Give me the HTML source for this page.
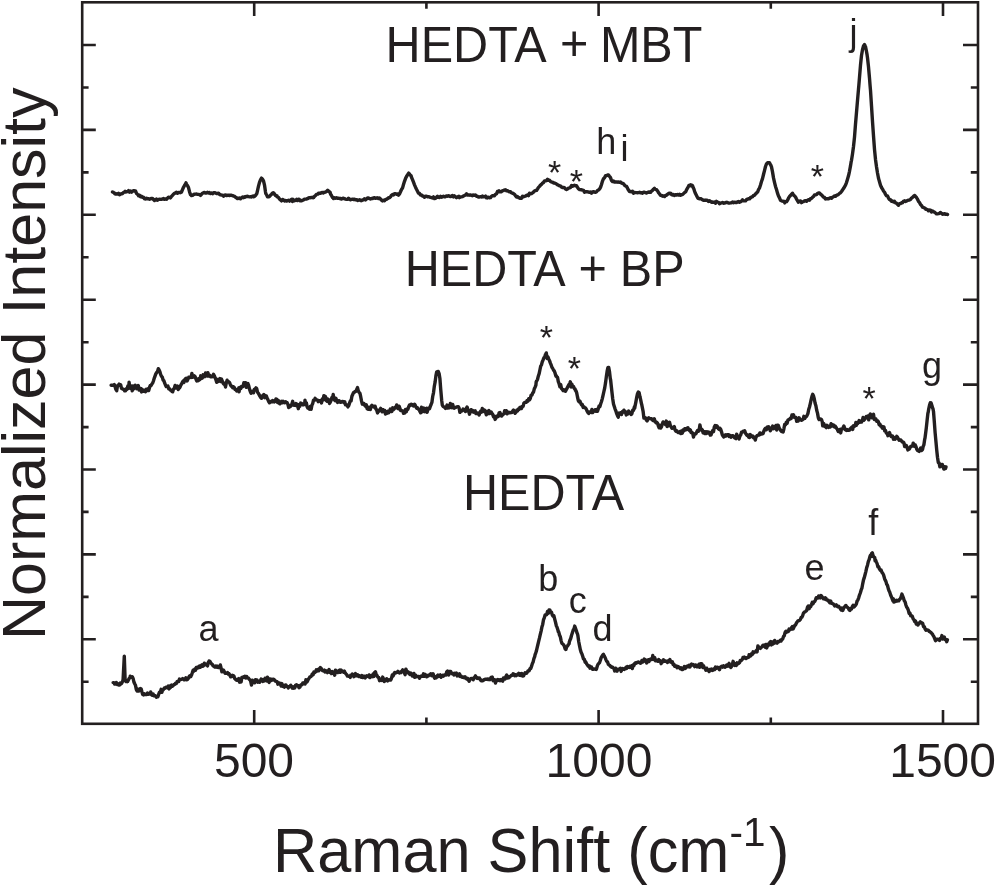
<!DOCTYPE html>
<html><head><meta charset="utf-8"><title>Raman spectra</title>
<style>
html,body{margin:0;padding:0;background:#fff;}
body{width:995px;height:886px;overflow:hidden;}
svg{display:block;}
text{font-family:"Liberation Sans",Arial,Helvetica,sans-serif;fill:#231f20;}
.t{font-size:48.6px;}
.k{font-size:48px;text-anchor:middle;}
.l{font-size:36px;text-anchor:middle;}
.s{font-size:34px;text-anchor:middle;}
.a{font-size:61.3px;}
</style></head><body>
<svg width="995" height="886" viewBox="0 0 995 886">
<rect width="995" height="886" fill="#fff"/>
<rect x="82.2" y="2.3" width="895.8" height="721.5" fill="none" stroke="#231f20" stroke-width="2.6"/>
<path d="M82.2,45.0h13.6M978.0,45.0h-15M82.2,129.9h13.6M978.0,129.9h-15M82.2,214.8h13.6M978.0,214.8h-15M82.2,299.7h13.6M978.0,299.7h-15M82.2,384.6h13.6M978.0,384.6h-15M82.2,469.5h13.6M978.0,469.5h-15M82.2,554.4h13.6M978.0,554.4h-15M82.2,639.3h13.6M978.0,639.3h-15M82.2,87.5h6.4M978.0,87.5h-7.2M82.2,172.4h6.4M978.0,172.4h-7.2M82.2,257.2h6.4M978.0,257.2h-7.2M82.2,342.2h6.4M978.0,342.2h-7.2M82.2,427.1h6.4M978.0,427.1h-7.2M82.2,511.9h6.4M978.0,511.9h-7.2M82.2,596.9h6.4M978.0,596.9h-7.2M82.2,681.8h6.4M978.0,681.8h-7.2M254.2,2.3v13.8M254.2,723.8v-13.8M598.6,2.3v13.8M598.6,723.8v-13.8M943,2.3v13.8M943,723.8v-13.8M426.4,2.3v6.4M426.4,723.8v-6.4M770.8,2.3v6.4M770.8,723.8v-6.4" fill="none" stroke="#231f20" stroke-width="2.6"/>
<g fill="none" stroke="#231f20" stroke-width="3.4" stroke-linejoin="round" stroke-linecap="round">
<path d="M112.5,192.0 113.5,192.4 114.5,193.4 115.1,193.9 115.5,193.4 116.5,194.0 117.5,194.1 118.5,193.3 119.5,194.8 120.1,194.5 120.5,193.9 121.5,193.8 122.5,193.5 123.5,192.5 124.5,192.0 125.1,191.3 125.5,192.1 126.5,191.7 127.5,191.6 128.5,190.6 129.5,192.1 130.2,191.3 130.5,191.0 131.5,192.2 132.5,191.2 133.5,190.6 134.5,191.1 135.5,190.9 136.5,193.4 137.5,194.3 138.2,194.8 138.5,195.7 139.5,195.3 140.5,196.8 141.5,196.2 142.5,197.2 143.5,197.2 144.5,198.7 145.5,199.0 146.5,198.2 147.5,198.9 148.5,198.7 149.5,199.2 150.5,198.8 151.5,198.4 152.5,198.4 153.5,199.5 154.5,200.5 155.5,199.5 156.5,199.1 157.5,200.3 158.5,199.4 159.5,199.3 160.5,199.4 161.5,199.2 162.5,199.1 163.5,198.5 164.5,199.3 165.5,198.9 166.5,199.2 167.5,198.2 168.5,197.1 169.5,197.5 170.5,197.9 171.5,196.4 172.5,195.3 173.5,194.2 174.5,193.3 175.5,192.9 176.5,192.2 177.5,193.3 178.5,192.4 179.5,192.5 180.5,192.7 181.5,192.0 182.5,189.6 183.5,187.3 184.5,185.5 185.5,184.0 186.0,182.8 186.5,184.1 187.5,185.6 187.8,186.2 188.5,187.6 189.5,191.7 190.5,194.6 190.9,194.9 191.5,195.6 192.5,195.4 193.5,194.6 194.5,194.2 195.5,194.1 196.5,194.0 197.5,194.4 198.5,194.4 199.5,194.7 200.5,195.4 201.5,194.3 202.5,193.3 203.5,192.8 204.5,192.4 205.5,193.1 206.5,193.1 207.5,192.2 208.5,193.1 209.5,192.6 210.5,193.6 211.5,193.0 212.5,193.7 213.5,192.7 214.5,192.7 215.5,193.0 216.5,193.5 217.5,193.5 218.5,193.2 219.5,194.4 220.5,194.8 221.5,195.0 222.5,195.1 223.5,196.2 224.5,195.1 225.5,194.9 226.5,195.6 227.5,195.3 228.5,195.2 229.5,195.5 230.5,195.2 231.5,195.2 232.5,195.7 233.5,196.0 234.5,196.4 235.5,197.2 236.5,197.8 237.5,198.6 238.5,198.3 239.5,198.0 240.5,198.8 241.5,197.8 242.5,197.0 243.5,197.7 244.5,196.8 244.7,197.3 245.5,196.8 246.5,196.4 247.5,196.3 248.5,196.7 249.5,196.9 250.5,196.7 251.5,197.0 252.5,196.2 253.5,196.8 253.8,195.9 254.5,196.3 255.5,195.5 256.5,194.1 256.8,193.6 257.5,190.7 258.5,186.2 259.5,182.3 260.5,179.8 261.5,178.1 262.5,179.2 263.5,180.8 264.5,185.1 265.5,192.0 265.8,193.6 266.5,194.6 267.5,196.8 268.5,196.9 269.5,196.5 270.5,195.2 271.5,194.2 272.5,193.1 272.9,193.6 273.5,192.9 274.5,194.0 275.5,195.4 276.5,196.2 276.9,195.8 277.5,197.1 278.5,197.6 279.5,199.0 280.5,199.9 281.5,200.9 281.9,200.5 282.5,199.5 283.5,199.8 284.5,200.9 285.5,200.4 286.5,201.1 287.5,200.7 288.5,200.2 289.5,201.1 290.5,200.1 291.5,199.4 292.5,201.4 293.0,199.3 293.5,200.6 294.5,200.8 295.5,200.3 296.5,199.4 297.5,200.5 298.5,199.1 299.0,199.1 299.5,199.8 300.0,200.8 300.5,200.7 301.5,200.9 302.5,200.2 303.5,200.0 304.5,199.2 305.5,199.1 306.5,199.1 307.5,198.4 308.0,198.5 308.5,197.9 309.5,197.6 310.5,197.7 311.5,197.4 312.5,197.5 313.1,197.1 313.5,197.7 314.5,196.3 315.5,195.5 316.5,194.4 317.5,194.1 318.1,194.0 318.5,193.1 319.5,193.1 320.5,193.3 321.5,192.7 322.5,192.4 323.5,192.9 324.1,192.3 324.5,192.3 325.5,192.1 326.5,191.5 327.5,190.5 327.7,190.3 328.5,191.0 329.5,192.0 330.2,192.5 330.5,194.0 331.5,195.5 332.5,197.6 333.2,197.4 333.5,198.6 334.5,197.9 335.5,198.2 336.5,197.7 337.5,198.3 338.5,198.3 339.5,198.4 340.2,198.7 340.5,198.5 341.5,199.1 342.5,198.5 343.5,198.2 344.5,198.7 345.5,199.1 346.5,199.4 347.5,199.3 348.5,198.2 349.5,199.3 350.5,199.9 351.5,199.3 352.5,199.1 353.5,199.6 354.5,199.2 355.5,199.9 356.5,199.7 357.5,200.5 358.5,200.2 359.5,199.7 360.5,200.5 361.5,200.7 362.5,200.0 363.5,199.8 364.5,198.7 365.5,199.9 366.5,199.0 367.5,198.0 368.5,198.0 369.5,198.6 370.5,199.0 371.5,198.5 372.5,198.6 373.5,197.8 374.5,197.6 375.5,198.4 376.5,198.0 377.5,197.8 378.5,198.6 379.5,198.1 380.5,199.0 381.5,200.1 382.5,200.9 383.5,200.2 384.5,200.8 385.5,199.4 386.5,199.4 387.5,198.7 388.5,197.7 389.5,197.7 390.5,196.8 391.5,195.3 392.5,194.5 393.5,194.9 394.5,193.7 395.5,193.7 396.5,194.2 397.5,193.9 398.5,195.1 399.5,193.9 400.5,191.8 401.5,189.5 402.5,188.1 403.5,184.5 404.5,181.3 405.5,178.6 406.5,176.5 407.5,174.9 408.5,173.4 408.7,173.1 409.5,174.2 410.5,175.3 411.0,175.5 411.5,177.3 412.5,179.6 413.5,182.2 414.5,184.8 415.5,187.2 416.5,189.3 417.5,191.2 418.5,193.2 419.5,193.5 420.5,195.1 421.5,194.9 422.5,196.0 423.5,196.2 424.5,197.2 425.5,196.1 426.5,196.1 427.5,196.7 428.5,196.7 429.5,196.9 430.5,197.4 431.5,197.6 432.5,198.0 433.5,196.9 434.5,198.6 435.5,198.4 436.5,197.3 437.5,196.3 438.5,197.4 439.5,197.5 440.5,196.3 441.5,197.2 442.5,196.8 443.5,196.2 444.5,196.7 445.5,196.7 446.5,195.9 447.5,196.2 448.5,195.7 448.7,195.7 449.5,196.2 450.5,196.6 451.5,196.2 452.5,195.5 453.5,196.9 454.5,195.9 455.5,196.8 456.5,197.7 457.5,197.0 458.5,196.4 458.8,196.3 459.5,197.6 460.5,196.9 461.5,196.9 462.5,196.7 463.5,196.0 464.5,195.5 465.5,195.0 466.5,193.8 466.8,194.4 467.5,195.1 468.5,194.9 469.5,195.2 470.5,195.0 471.5,195.3 472.5,195.7 473.5,195.0 474.5,195.4 475.5,195.0 476.5,196.3 476.9,196.0 477.5,196.3 478.5,197.0 479.5,197.0 480.5,196.6 481.5,197.0 482.5,196.0 483.5,196.9 484.5,196.7 485.5,196.1 486.5,197.8 486.9,197.0 487.5,197.9 488.5,197.2 489.5,197.7 490.5,197.6 491.5,196.3 492.5,195.6 493.5,195.7 494.5,195.7 495.0,194.8 495.5,194.4 496.5,193.8 497.5,191.4 498.5,191.2 499.0,190.7 499.5,191.9 500.0,191.9 500.5,191.7 501.5,191.7 502.5,190.6 503.5,190.6 504.5,189.9 505.0,189.9 505.5,189.8 506.5,190.8 507.5,190.7 508.5,191.4 509.5,191.8 510.5,191.7 511.1,192.6 511.5,192.7 512.5,193.2 513.5,193.6 514.5,194.3 515.5,195.7 516.5,197.1 517.5,196.6 518.5,197.7 519.5,197.7 520.1,198.3 520.5,198.1 521.5,198.3 522.5,196.3 523.5,196.9 524.5,196.3 525.5,196.1 526.5,195.4 527.5,195.0 528.1,195.2 528.5,195.7 529.5,193.2 530.5,193.8 531.5,193.6 532.5,192.9 533.5,192.1 534.5,191.0 535.5,190.5 536.2,190.5 536.5,190.4 537.5,189.0 538.5,187.4 539.5,186.4 540.5,185.1 541.5,184.3 542.2,183.5 542.5,183.2 543.5,182.5 544.5,181.0 545.5,180.9 546.5,180.6 547.5,179.3 548.5,180.3 549.5,180.2 550.5,181.6 551.5,182.1 552.5,182.1 553.5,183.0 554.5,182.9 555.5,183.4 556.5,184.0 557.5,184.8 558.5,185.3 559.5,185.9 560.5,186.0 561.5,187.0 562.5,187.6 563.5,187.5 564.5,187.7 565.5,189.0 566.5,189.5 567.5,189.0 568.5,188.1 569.5,187.8 570.5,187.4 571.5,185.5 572.5,186.3 573.5,185.7 574.5,185.3 575.5,185.9 576.5,185.7 577.5,187.3 578.5,188.9 579.5,189.5 580.5,189.7 581.5,189.7 582.5,190.2 583.5,190.4 584.5,192.3 585.5,191.8 586.5,191.7 587.5,191.8 588.5,192.0 589.5,192.4 590.5,191.9 591.5,193.2 592.5,191.9 593.5,191.7 594.5,192.1 595.5,192.4 596.5,191.8 597.5,190.5 598.5,190.0 599.5,189.1 600.5,187.4 601.5,184.5 602.5,181.1 603.5,178.7 604.5,177.7 605.5,175.8 606.5,175.8 607.5,174.9 608.5,175.0 609.5,176.3 610.2,177.1 610.5,177.6 611.5,180.5 612.5,181.5 613.5,181.0 614.5,182.1 615.5,181.9 616.5,182.0 617.5,182.2 618.5,181.9 619.5,182.4 620.5,182.0 621.5,183.0 622.5,183.3 623.5,183.8 624.5,185.2 625.5,186.0 626.5,186.4 627.5,188.2 628.5,190.1 629.5,191.6 630.5,191.5 631.5,191.8 632.5,191.3 633.5,193.3 634.5,192.4 635.5,192.6 636.5,192.6 637.5,192.7 638.5,192.6 639.5,192.3 640.5,192.9 641.5,192.6 642.5,193.2 643.5,192.1 644.5,192.2 645.5,192.7 646.5,193.0 647.5,192.5 648.5,192.0 648.7,192.3 649.5,192.0 650.5,192.3 651.5,191.1 652.5,190.4 653.5,189.2 654.5,188.3 654.8,189.0 655.5,189.3 656.5,189.7 657.5,190.8 658.5,192.7 659.5,193.8 660.5,195.4 661.5,195.5 661.8,195.4 662.5,196.2 663.5,196.0 664.5,196.6 665.5,195.4 666.5,195.3 667.5,194.3 668.5,193.5 669.5,193.1 670.5,193.9 670.9,193.3 671.5,194.6 672.5,195.0 673.5,194.5 674.5,195.4 675.5,194.6 676.5,195.1 677.5,194.4 678.5,195.1 679.5,194.3 680.5,195.2 680.9,194.8 681.5,194.7 682.5,194.6 683.5,193.6 684.5,192.6 685.5,191.9 685.9,191.4 686.5,189.9 687.5,188.2 688.5,186.3 688.9,185.4 689.5,185.7 690.5,184.7 691.5,186.0 692.0,185.2 692.5,185.7 693.5,188.3 694.0,189.3 694.5,191.1 695.0,192.3 695.5,193.6 696.5,195.6 697.5,197.5 697.9,198.2 698.5,198.1 699.5,198.9 700.5,198.6 701.5,199.1 702.5,199.7 703.5,200.3 704.5,200.2 705.5,200.1 705.8,200.3 706.5,200.2 707.5,200.5 708.5,201.4 709.5,200.8 710.5,201.4 711.5,202.3 712.5,201.9 713.5,202.4 714.5,201.9 715.5,203.3 716.5,201.4 717.5,202.1 718.5,202.3 719.5,203.7 720.5,203.2 721.5,202.9 722.5,202.4 723.5,203.2 724.5,203.1 725.5,202.7 726.5,202.3 727.5,202.5 728.5,203.1 729.5,203.1 730.5,202.9 731.5,202.8 732.5,201.9 733.5,202.7 734.5,202.1 735.5,202.5 736.5,202.6 737.5,201.9 738.5,201.5 739.5,202.3 740.5,201.8 741.5,201.0 742.5,199.8 743.5,200.9 744.5,200.9 745.5,200.8 746.5,199.6 747.5,199.2 748.5,198.8 749.5,198.9 750.5,197.5 750.9,197.6 751.5,197.0 752.5,196.9 753.5,195.4 754.5,195.3 755.5,194.0 756.5,193.0 757.5,192.0 757.7,191.8 758.5,189.7 759.5,188.0 760.5,184.9 761.5,181.5 762.5,178.6 763.5,174.5 764.5,170.6 765.5,166.5 766.5,163.9 767.5,162.8 768.5,162.8 769.5,162.8 770.5,164.7 770.8,165.1 771.5,166.9 772.5,171.9 773.5,177.9 774.5,182.3 775.5,186.4 776.5,189.5 777.5,193.1 778.5,196.0 779.5,197.9 780.0,199.1 780.5,200.3 781.5,200.8 782.5,201.1 783.5,201.6 784.5,201.5 784.8,202.9 785.5,201.9 786.5,201.7 787.5,200.3 788.5,198.2 789.5,196.5 790.5,195.5 791.5,194.2 792.1,193.8 792.5,193.2 793.5,195.1 794.5,195.8 795.5,197.0 796.5,199.1 797.5,200.7 798.5,202.2 799.5,201.1 800.5,200.9 801.5,202.6 802.5,201.8 803.5,201.6 804.5,200.9 805.5,200.6 806.5,201.3 807.5,200.2 808.5,199.7 809.0,199.5 809.5,200.2 810.5,198.7 811.5,198.4 812.5,197.3 813.5,196.4 814.5,195.0 815.5,194.8 816.5,194.6 817.5,193.5 818.5,193.0 819.5,193.0 820.5,194.2 821.5,194.9 822.5,196.0 823.5,197.2 824.5,197.5 825.5,199.0 825.8,198.9 826.5,198.7 827.5,198.7 828.5,198.9 829.5,198.2 830.5,197.6 831.5,198.2 832.5,197.2 833.5,196.7 834.5,196.0 835.5,196.3 836.5,195.3 837.5,194.9 838.5,194.4 839.5,193.4 840.5,192.8 841.5,191.5 842.5,190.0 843.5,188.6 844.5,186.8 845.5,185.1 846.5,182.6 847.5,179.3 848.5,175.8 849.5,171.3 850.5,165.9 851.2,161.5 851.5,160.3 852.5,153.9 853.5,146.5 854.2,140.0 854.5,137.1 855.5,124.2 856.5,112.3 857.5,100.6 858.5,89.1 858.8,85.8 859.5,77.3 860.5,65.1 861.5,55.5 862.5,49.7 863.5,46.0 864.2,45.0 864.5,44.6 865.2,46.0 865.5,46.5 866.5,51.5 867.1,54.9 867.5,57.8 868.5,66.9 869.5,78.2 870.1,85.8 870.5,90.4 871.5,105.8 872.5,121.5 873.5,135.8 874.5,149.3 875.5,159.4 876.5,166.8 877.5,173.0 878.5,178.2 878.9,179.6 879.5,181.8 880.5,185.3 881.5,187.5 882.5,189.1 883.5,191.1 884.5,192.1 884.9,193.0 885.5,194.4 886.5,195.9 887.5,196.0 888.5,198.1 889.5,199.7 890.5,199.7 891.0,200.5 891.5,201.3 892.5,201.0 893.5,201.9 893.7,201.8 894.5,201.3 895.5,202.9 896.5,203.2 897.5,204.2 898.5,205.2 898.8,204.4 899.5,203.6 900.5,203.5 901.5,202.8 902.5,202.7 903.5,201.2 903.9,201.2 904.5,200.7 905.5,201.6 906.5,201.1 907.5,200.5 908.5,200.1 909.5,200.0 909.7,199.8 910.5,199.5 911.5,198.1 912.5,197.4 913.5,196.3 914.5,195.4 914.8,195.5 915.5,196.5 916.5,197.5 917.0,198.4 917.5,199.2 918.5,201.3 919.5,202.5 920.5,204.5 921.5,205.4 922.5,207.1 923.5,207.5 924.5,208.0 925.5,208.5 925.8,209.3 926.5,209.3 927.5,209.6 928.5,210.8 929.5,210.0 930.5,210.1 931.5,212.1 932.5,211.1 933.5,211.6 934.5,212.2 935.5,213.0 936.5,213.8 937.5,213.9 938.5,213.7 939.5,213.1 940.5,212.4 941.5,213.4 942.5,214.2 943.5,214.1 944.5,213.7 945.5,214.4 946.5,214.1 947.5,214.6"/>
<path d="M111.1,385.2 111.9,385.3 112.7,385.3 113.5,385.3 114.3,384.6 115.1,386.7 115.9,389.4 116.7,390.7 117.5,385.8 118.3,385.3 119.1,384.1 119.9,385.5 120.7,384.9 121.5,388.4 122.3,388.7 123.1,389.2 123.9,389.4 124.7,390.8 125.1,390.8 125.5,390.8 126.3,388.8 127.1,389.2 127.9,385.9 128.7,388.3 129.1,382.1 129.5,385.7 130.3,385.6 131.1,388.6 131.9,386.2 132.2,390.8 132.7,386.0 133.5,389.1 134.3,386.3 135.1,385.2 135.9,386.0 136.7,388.7 137.5,388.0 138.3,385.6 139.1,390.1 139.9,389.9 140.7,388.5 141.5,391.9 142.3,389.3 143.1,391.4 143.9,391.4 144.7,390.2 145.5,391.7 146.3,389.3 147.1,390.5 147.9,388.8 148.2,388.7 148.7,390.6 149.5,387.5 150.3,385.5 151.1,385.6 151.9,384.0 152.7,383.0 153.5,380.7 154.3,378.1 155.1,375.9 155.9,373.7 156.7,372.5 157.5,371.6 158.3,368.7 159.1,370.0 159.9,371.7 160.7,374.6 161.5,376.3 162.3,377.1 163.1,380.0 163.9,380.8 164.3,381.9 164.7,383.2 165.5,385.1 166.3,386.6 167.1,386.4 167.9,386.1 168.7,388.8 169.5,388.7 170.3,390.0 171.1,390.1 171.9,391.4 172.4,391.6 172.7,391.8 173.5,389.1 174.3,388.3 175.1,385.4 175.4,385.9 175.9,388.0 176.7,386.7 177.5,386.0 178.3,389.5 179.1,388.1 179.9,387.4 180.7,385.3 181.5,384.0 182.3,382.4 183.1,381.0 183.9,382.5 184.7,379.6 185.5,378.8 186.3,378.3 187.1,380.9 187.9,379.3 188.7,377.3 189.5,377.2 190.3,377.4 191.1,377.5 191.9,373.4 192.7,377.3 193.5,376.0 194.3,375.8 195.1,376.7 195.9,378.9 196.7,380.9 197.5,379.5 198.3,380.7 199.1,378.4 199.5,379.8 199.9,379.7 200.7,375.8 201.5,377.0 202.3,378.2 203.1,374.8 203.9,376.1 204.7,376.6 205.5,373.0 206.3,374.3 206.5,374.7 207.1,375.9 207.9,372.7 208.7,376.1 209.5,375.0 210.3,376.6 211.1,376.9 211.9,376.1 212.7,376.7 213.5,374.3 214.3,375.8 215.1,377.6 215.9,379.7 216.7,382.3 217.5,379.5 218.3,381.4 219.1,379.7 219.9,378.6 220.7,381.5 221.5,379.1 222.3,381.1 223.1,383.1 223.9,384.1 224.7,383.2 225.5,387.0 226.3,382.9 227.1,380.2 227.9,381.7 228.7,381.8 229.5,382.5 230.3,384.4 231.1,386.0 231.9,386.1 232.7,387.7 233.5,386.9 234.3,387.6 235.1,389.6 235.9,389.5 236.7,390.9 237.5,389.2 238.3,389.7 238.7,388.1 239.1,391.8 239.9,387.5 240.7,388.7 241.5,386.4 242.3,386.8 243.1,386.5 243.9,382.7 244.7,384.7 245.5,382.7 246.3,387.4 247.1,385.0 247.9,383.5 248.7,385.6 249.5,389.1 250.3,391.5 251.1,393.3 251.9,391.5 252.7,391.7 253.5,392.8 254.3,389.3 255.1,389.0 255.9,387.9 256.7,388.6 257.5,392.2 258.3,393.2 259.1,394.6 259.9,396.1 260.7,397.5 261.5,398.3 262.3,396.1 263.1,395.4 263.9,394.5 264.7,397.7 265.5,395.8 266.3,395.9 267.1,398.1 267.9,399.6 268.7,401.6 269.5,402.8 270.3,401.6 271.1,401.4 271.9,402.0 272.7,400.5 273.5,401.6 274.3,402.0 275.1,401.3 275.9,399.0 276.7,399.1 277.5,402.4 278.3,400.4 279.1,403.2 279.9,403.8 280.7,402.9 281.5,401.4 282.3,402.8 283.1,401.3 283.9,402.4 284.7,402.8 285.5,401.7 286.3,402.3 287.1,402.6 287.9,404.3 288.7,407.5 288.9,407.1 289.5,405.5 290.3,406.6 291.1,405.4 291.9,404.0 292.7,401.3 293.0,405.1 293.5,405.2 294.3,405.4 295.1,405.2 295.9,403.5 296.7,405.7 297.5,404.4 298.3,408.7 299.1,404.7 299.9,406.2 300.7,403.1 301.5,403.4 302.3,403.9 303.1,405.0 303.9,404.3 304.7,403.6 305.0,400.2 305.5,404.5 306.3,402.7 307.1,406.6 307.9,408.1 308.7,408.1 309.5,409.2 310.3,406.5 311.1,409.3 311.9,405.2 312.7,403.6 313.5,400.2 314.3,400.3 315.1,398.3 315.9,399.6 316.7,399.8 317.5,400.1 318.3,401.6 319.1,400.7 319.9,400.8 320.7,400.7 321.5,402.9 322.3,398.9 323.1,400.1 323.9,395.6 324.7,396.2 325.1,397.7 325.5,396.6 326.3,400.5 327.1,401.3 327.9,399.0 328.7,400.1 329.1,401.1 329.5,403.5 330.3,402.1 331.1,400.3 331.9,397.5 332.7,397.3 333.2,394.5 333.5,396.5 334.3,399.7 335.1,400.7 335.9,398.3 336.7,400.3 337.5,402.4 338.3,400.8 339.1,400.6 339.9,402.1 340.7,402.3 341.5,402.0 342.3,401.4 343.1,401.7 343.9,402.6 344.7,401.8 345.5,404.8 346.3,404.6 347.1,405.2 347.9,406.9 348.2,406.2 348.7,405.6 349.5,403.2 350.3,401.0 351.1,400.9 351.9,396.3 352.7,394.5 353.5,392.6 354.3,392.4 355.1,391.4 355.9,391.3 356.7,389.4 357.5,387.6 358.3,390.9 359.1,392.4 359.9,393.2 360.7,396.7 361.5,400.9 362.3,404.2 363.1,404.0 363.9,403.5 364.7,405.2 365.5,406.3 366.3,404.8 367.1,408.7 367.9,407.1 368.3,409.4 368.7,409.2 369.5,408.0 370.3,409.6 371.1,406.2 371.9,405.3 372.7,406.1 373.5,406.9 374.3,406.1 375.1,406.1 375.9,409.0 376.7,410.1 377.5,412.9 378.3,410.5 379.1,411.0 379.9,409.8 380.7,408.4 381.5,410.4 382.3,411.8 383.1,409.7 383.9,410.7 384.7,410.5 385.5,414.0 386.3,411.6 387.1,413.3 387.9,411.2 388.7,412.7 389.5,411.6 390.3,409.1 391.1,411.5 391.9,411.5 392.7,407.8 393.5,409.6 394.3,408.8 395.1,407.3 395.9,407.7 396.7,404.9 397.5,407.7 398.3,408.8 399.1,406.2 399.9,408.3 400.7,410.6 401.5,410.5 402.3,410.9 403.1,411.2 403.5,413.4 403.9,412.6 404.7,413.0 405.5,409.6 406.3,411.7 407.1,409.0 407.9,409.2 408.7,406.7 409.5,405.1 410.3,405.4 411.1,404.3 411.9,404.4 412.7,405.2 413.5,405.9 414.3,404.9 414.6,404.2 415.1,404.9 415.9,406.8 416.7,408.2 417.5,407.8 418.3,409.2 419.1,409.5 419.9,411.4 420.7,412.8 421.5,407.3 422.3,411.9 423.1,410.6 423.9,408.0 424.7,411.7 425.5,410.7 426.3,410.9 426.6,408.2 427.1,412.3 427.9,409.3 428.7,408.1 429.5,408.7 430.3,406.4 431.1,404.5 431.9,402.4 432.7,396.5 433.5,392.8 434.3,386.4 434.7,384.2 435.1,382.2 435.9,375.9 436.7,371.9 437.5,371.7 438.3,371.5 439.1,373.6 439.9,378.5 440.7,389.1 441.5,398.1 441.7,400.4 442.3,405.1 443.1,406.4 443.9,407.0 444.7,407.1 445.5,408.4 446.3,407.8 447.1,405.1 447.9,408.0 448.7,406.4 449.5,407.7 450.3,403.5 451.1,404.2 451.9,407.7 452.7,404.4 453.5,408.0 454.3,408.2 455.1,407.5 455.9,407.4 456.7,406.9 457.5,406.8 458.3,406.6 459.1,408.0 459.9,412.4 460.7,411.3 461.5,411.0 462.3,410.8 463.1,409.0 463.9,410.0 464.7,409.6 465.5,411.5 466.3,409.0 467.1,407.0 467.9,409.7 468.7,411.6 469.5,414.2 470.3,412.2 471.1,409.7 471.9,411.1 472.7,410.6 473.5,412.1 474.3,411.4 475.1,410.7 475.9,413.6 476.7,413.3 477.5,412.9 478.3,413.5 479.1,415.1 479.9,412.4 480.7,411.1 481.5,412.1 482.3,408.4 483.1,411.5 483.9,409.8 484.7,410.2 485.5,412.1 486.3,414.8 487.1,411.5 487.9,413.7 488.7,413.0 488.9,410.5 489.5,413.6 490.3,411.9 491.1,411.9 491.9,413.4 492.7,414.4 493.5,416.8 494.3,416.0 495.1,419.4 495.9,418.1 496.7,416.6 497.5,415.8 498.3,416.4 499.1,412.8 499.9,412.5 500.7,414.2 501.5,416.1 502.3,415.1 503.1,414.5 503.9,413.8 504.7,410.7 505.5,412.9 506.3,410.7 507.1,413.8 507.9,412.4 508.7,412.2 509.5,412.8 510.3,412.7 511.1,412.5 511.9,412.5 512.7,411.1 513.5,410.0 514.3,412.1 515.1,413.3 515.9,412.3 516.7,410.3 517.5,410.9 518.3,409.1 519.1,409.4 519.9,407.4 520.7,407.3 521.5,408.5 522.3,406.4 523.1,406.4 523.9,403.2 524.7,402.4 525.5,402.3 526.3,402.2 527.1,400.4 527.9,401.1 528.7,398.7 529.5,399.8 530.3,398.4 531.1,395.2 531.9,395.3 532.7,393.0 533.5,392.1 534.3,388.8 535.1,387.2 535.9,385.1 536.2,381.7 536.7,381.0 537.5,379.5 538.3,376.2 539.1,373.8 539.9,370.0 540.7,366.1 541.5,364.9 542.3,361.7 543.1,359.9 543.9,357.8 544.7,357.1 545.5,354.3 545.8,354.1 546.3,352.9 547.1,358.6 547.9,356.8 548.7,358.9 549.5,360.6 550.3,362.9 551.1,364.8 551.9,367.2 552.7,368.4 553.5,370.1 554.3,371.0 555.1,373.2 555.9,376.0 556.3,375.8 556.7,376.9 557.5,377.3 558.3,381.6 559.1,383.7 559.9,386.7 560.7,384.7 561.5,388.5 562.3,389.3 563.1,390.5 563.9,389.9 564.7,390.9 565.5,391.3 566.3,389.6 567.1,388.1 567.9,386.6 568.7,384.9 569.5,384.2 569.9,383.1 570.3,381.8 571.1,387.0 571.9,384.2 572.7,386.8 573.5,386.4 574.3,388.5 575.1,389.0 575.4,390.4 575.9,390.7 576.7,392.9 577.5,397.0 578.3,400.5 579.1,401.8 579.4,401.9 579.9,401.0 580.7,403.2 581.5,404.9 582.3,404.5 583.1,407.4 583.9,406.7 584.7,407.8 585.5,407.9 586.3,409.1 587.1,411.1 587.9,412.5 588.7,413.4 589.5,411.9 590.3,411.9 591.1,412.4 591.9,409.5 592.7,412.6 593.5,411.5 594.3,410.9 595.1,409.7 595.9,411.2 596.7,409.4 597.5,411.3 598.3,408.8 599.1,405.9 599.9,406.6 600.7,403.8 601.5,401.5 602.3,398.6 603.1,395.1 603.9,391.5 604.7,388.0 605.5,383.1 606.3,377.0 607.1,371.4 607.9,367.7 608.7,367.4 609.5,371.6 610.3,378.7 610.6,379.8 611.1,384.5 611.9,391.7 612.7,398.8 613.5,404.0 614.3,406.6 615.1,409.1 615.9,411.0 616.7,413.7 617.5,415.7 618.3,417.2 618.6,414.0 619.1,413.1 619.9,413.9 620.7,412.8 621.5,414.5 622.3,411.7 623.1,412.2 623.9,410.2 624.7,411.5 625.5,412.5 626.3,414.9 627.1,412.1 627.9,413.9 628.7,411.1 629.5,412.7 630.3,413.2 630.7,413.6 631.1,414.5 631.9,413.6 632.7,410.2 633.5,410.3 634.3,407.1 634.7,408.3 635.1,405.8 635.9,401.8 636.7,397.3 637.5,393.7 638.3,392.1 639.1,392.7 639.9,396.5 640.7,399.8 641.5,403.8 641.7,404.4 642.3,407.4 643.1,411.3 643.9,418.1 644.7,417.4 645.5,417.8 646.3,419.9 647.1,420.9 647.9,418.5 648.7,417.8 649.5,418.6 650.3,418.7 651.1,418.6 651.9,419.0 652.7,420.3 653.5,420.7 654.3,418.8 654.8,420.7 655.1,421.4 655.9,422.7 656.7,422.3 657.5,423.1 658.3,425.9 659.1,427.7 659.9,425.3 660.7,428.1 661.5,426.9 662.3,424.0 663.1,421.9 663.9,423.0 664.7,423.6 665.5,424.5 666.3,421.1 667.1,426.5 667.9,426.1 668.7,422.8 669.5,422.2 670.3,425.3 671.1,426.8 671.9,428.3 672.7,428.1 673.5,427.8 674.3,426.6 675.1,430.1 675.9,431.2 676.7,430.7 677.5,432.0 678.3,432.6 679.1,432.6 679.9,431.6 680.7,433.6 681.5,430.9 682.3,433.2 683.1,429.9 683.9,430.9 684.7,428.8 684.9,430.0 685.5,428.7 686.3,429.6 687.1,428.2 687.9,427.7 688.7,429.9 688.9,430.1 689.5,429.5 690.0,430.9 690.3,429.8 691.1,432.5 691.9,432.3 692.7,433.2 693.5,437.1 694.3,434.0 695.1,434.1 695.9,433.9 696.7,432.1 697.5,430.6 698.3,431.2 699.1,430.7 699.9,424.9 700.7,428.8 701.5,429.2 702.3,429.8 703.1,432.8 703.9,431.5 704.7,433.6 705.1,431.7 705.5,431.8 706.3,433.4 707.1,431.8 707.9,433.0 708.7,432.0 709.5,432.7 710.3,435.1 711.1,434.8 711.9,432.1 712.7,430.6 713.5,431.6 714.3,427.1 715.1,425.6 715.9,427.2 716.7,425.7 717.5,426.6 718.3,428.7 719.1,429.3 719.9,428.2 720.2,430.0 720.7,429.2 721.5,431.8 722.3,434.8 723.1,436.1 723.9,437.0 724.7,436.4 725.5,434.9 726.3,435.9 727.1,434.8 727.9,434.7 728.7,434.9 729.2,436.4 729.5,435.1 730.3,436.4 731.1,437.1 731.9,435.7 732.7,435.7 733.5,436.0 734.3,437.4 735.1,438.1 735.9,438.6 736.7,434.1 737.5,437.2 738.3,437.3 739.1,438.9 739.9,436.0 740.7,434.9 741.5,432.2 742.3,432.3 743.1,431.2 743.9,431.2 744.3,431.4 744.7,430.7 745.5,433.2 746.3,434.4 747.1,435.5 747.9,435.0 748.7,437.2 749.5,437.6 750.3,434.6 751.1,436.5 751.9,435.7 752.7,436.1 753.5,437.7 754.3,437.2 755.1,439.3 755.3,440.1 755.9,437.4 756.7,436.1 757.5,435.4 758.3,435.0 759.1,435.0 759.9,433.0 760.4,434.4 760.7,433.1 761.5,434.0 762.3,433.8 763.1,433.6 763.9,430.9 764.7,429.1 765.5,428.3 766.3,429.8 767.1,427.7 767.4,427.0 767.9,428.2 768.7,426.7 769.5,428.9 770.3,430.7 771.1,427.9 771.9,428.8 772.7,426.1 773.5,428.7 774.3,427.5 775.1,427.0 775.9,425.5 776.7,430.0 777.5,425.1 778.3,425.4 779.1,427.7 779.9,429.2 780.7,430.5 781.5,431.5 782.3,430.6 783.1,432.0 783.9,428.8 784.7,424.4 785.5,424.8 786.3,422.2 787.1,423.4 787.9,420.2 788.7,419.6 789.5,419.4 790.3,418.2 791.1,418.6 791.9,415.0 792.7,416.4 793.5,414.7 794.3,417.4 795.1,417.5 795.9,417.4 796.7,421.4 797.5,419.2 798.3,420.9 799.1,417.8 799.9,419.6 800.7,419.9 801.5,420.3 802.3,419.8 803.1,419.2 803.9,416.3 804.7,418.5 805.5,417.2 806.3,416.6 807.1,415.3 807.9,413.6 808.7,409.5 809.5,407.0 810.3,403.6 811.1,399.9 811.9,396.6 812.7,394.3 813.5,395.8 814.3,399.0 815.1,403.2 815.9,405.8 816.7,410.3 817.5,413.1 818.3,417.6 818.6,418.7 819.1,419.5 819.9,418.8 820.7,419.1 821.5,419.5 822.3,422.1 822.7,425.7 823.1,424.1 823.9,423.8 824.7,426.6 825.5,426.7 826.3,427.6 826.7,426.7 827.1,425.3 827.9,426.2 828.7,427.4 829.5,426.4 830.3,426.9 831.1,423.7 831.9,426.1 832.7,424.7 833.5,425.1 834.3,426.9 835.1,426.0 835.9,427.3 836.7,428.5 837.5,429.5 837.7,430.2 838.3,431.5 839.1,431.1 839.9,429.4 840.7,432.9 841.5,429.0 842.3,429.1 843.1,427.8 843.9,426.0 844.7,428.4 845.5,429.9 846.3,430.4 847.1,429.5 847.9,430.4 848.7,430.4 849.5,430.2 850.3,428.6 850.8,428.5 851.1,428.0 851.9,427.1 852.7,429.4 853.5,425.8 854.3,426.5 855.1,425.9 855.9,422.4 856.3,425.3 856.7,423.6 857.5,423.8 858.3,422.6 859.1,420.6 859.9,422.2 860.7,421.5 861.5,422.0 862.3,420.7 863.1,417.4 863.9,420.3 864.2,419.7 864.7,419.3 865.5,418.3 866.3,416.5 867.1,417.5 867.9,416.0 868.7,419.9 869.5,415.5 870.3,414.0 871.1,415.2 871.9,417.8 872.7,415.8 873.5,414.3 874.3,419.5 875.1,418.9 875.9,419.0 876.7,421.3 877.5,420.7 878.3,421.6 879.1,424.7 879.9,424.1 880.7,426.0 881.5,426.2 882.3,428.1 883.1,428.3 883.9,426.9 884.7,430.8 885.5,430.6 886.3,433.1 887.1,433.3 887.9,435.7 888.7,434.3 889.5,432.6 890.3,435.1 891.1,436.4 891.9,435.9 892.7,436.2 893.5,439.2 894.3,437.5 895.1,439.2 895.9,438.2 896.7,436.3 897.5,437.2 898.3,438.8 899.1,440.3 899.9,439.8 900.7,440.0 901.5,440.9 902.3,442.0 903.1,442.0 903.9,442.8 904.7,446.6 905.5,445.7 906.3,445.5 907.1,447.4 907.9,449.9 908.7,449.4 909.5,448.8 910.3,447.0 911.1,446.1 911.9,446.3 912.7,445.6 913.2,443.1 913.5,443.9 914.3,446.2 915.1,444.8 915.9,446.5 916.7,449.1 917.5,450.4 917.9,450.1 918.3,450.9 919.1,451.4 919.9,450.0 920.7,448.0 921.5,450.6 922.3,449.8 922.7,448.8 923.1,446.6 923.9,444.8 924.7,439.2 925.0,438.1 925.5,434.3 926.3,427.9 927.1,420.4 927.9,413.3 928.2,412.2 928.7,409.1 929.5,405.3 930.3,402.8 930.6,403.6 931.1,402.9 931.9,405.5 932.7,408.3 932.9,408.4 933.5,411.5 934.3,421.6 935.1,432.5 935.9,441.2 936.7,449.8 937.5,457.3 938.3,462.6 939.1,462.8 939.9,466.9 940.7,465.4 941.5,464.7 942.3,464.4 943.1,467.1 943.9,469.1 944.7,466.7 945.5,468.5 946.0,466.9"/>
<path d="M113.1,682.6 113.9,682.6 114.7,684.1 115.5,684.1 116.3,682.5 117.1,684.4 117.9,683.9 118.7,685.1 119.5,685.1 120.3,683.1 121.1,683.9 121.9,682.9 122.7,681.1 123.1,679.4 123.5,671.7 124.3,656.2 125.1,679.2 125.9,681.4 126.7,681.1 127.1,680.9 127.5,681.6 128.3,680.1 129.1,678.7 129.9,677.3 130.2,676.2 130.7,676.7 131.5,677.3 132.3,676.7 133.1,678.4 133.9,682.0 134.7,683.8 135.5,685.3 136.3,689.4 137.1,691.0 137.9,689.3 138.7,691.1 139.5,689.2 140.3,688.5 141.1,688.8 141.9,691.8 142.7,694.4 143.5,695.0 144.3,693.7 145.1,694.6 145.9,694.4 146.7,694.5 147.5,692.9 148.3,694.3 149.1,693.9 149.9,694.0 150.3,693.9 150.7,692.0 151.5,694.7 152.3,695.2 153.1,694.0 153.9,695.8 154.7,695.4 155.5,695.9 156.3,697.2 157.1,696.2 157.9,696.7 158.7,694.2 159.5,692.2 160.3,692.4 161.1,689.3 161.9,692.3 162.3,690.4 162.7,690.3 163.5,689.4 164.3,688.0 165.1,688.3 165.9,687.3 166.7,687.3 167.5,687.9 168.3,686.1 169.1,688.9 169.9,685.9 170.4,687.6 170.7,686.0 171.5,685.0 172.3,686.3 173.1,685.6 173.9,684.7 174.7,684.4 175.5,683.3 176.3,683.5 177.1,681.7 177.9,681.4 178.7,681.6 179.5,679.0 180.3,679.7 181.1,679.4 181.9,679.2 182.7,678.5 183.5,679.5 184.3,679.9 185.1,679.5 185.9,677.7 186.7,679.8 187.5,679.4 188.3,678.4 189.1,676.6 189.9,675.7 190.7,676.7 191.5,675.1 192.3,672.8 193.1,670.3 193.9,671.1 194.7,669.3 195.5,670.2 196.3,667.5 197.1,668.1 197.9,667.1 198.7,667.7 199.5,665.9 200.3,667.2 201.1,665.5 201.9,664.9 202.7,666.2 203.5,665.7 204.3,663.2 205.1,664.8 205.9,664.5 206.7,664.1 207.5,665.9 208.3,662.5 208.5,663.1 209.1,661.0 209.9,661.3 210.7,662.8 211.5,663.8 212.3,664.4 213.1,665.8 213.9,666.3 214.7,667.0 215.5,666.1 216.3,667.2 217.1,666.1 217.9,667.3 218.7,667.6 219.5,666.8 220.3,664.9 221.1,668.1 221.9,671.9 222.7,670.0 223.5,670.2 224.3,671.6 225.1,673.3 225.9,673.2 226.7,673.2 227.5,672.6 228.3,674.1 229.1,673.7 229.9,675.4 230.7,676.8 231.5,676.6 232.3,675.3 233.1,675.6 233.9,676.0 234.7,678.5 235.5,679.3 236.3,680.1 237.1,680.3 237.9,679.1 238.7,678.6 239.5,682.2 240.3,679.7 241.1,681.9 241.9,677.4 242.7,677.5 243.5,676.8 244.3,677.4 244.7,677.5 245.1,676.3 245.9,677.9 246.7,676.5 247.5,677.9 248.3,677.9 249.1,679.2 249.9,679.8 250.7,681.3 251.5,685.1 252.3,680.1 252.8,681.5 253.1,682.5 253.9,681.5 254.7,682.8 255.5,679.7 256.3,681.5 257.1,680.0 257.9,682.2 258.7,681.8 259.5,682.3 260.3,680.9 261.1,679.1 261.9,679.5 262.7,681.4 263.5,679.9 264.3,680.9 265.1,678.2 265.9,680.3 266.7,680.9 267.5,677.2 268.3,680.4 269.1,682.5 269.9,678.9 270.7,680.7 271.5,679.3 272.3,680.0 273.1,679.2 273.9,679.4 274.7,680.4 275.5,681.1 276.3,681.4 277.1,681.6 277.9,684.2 278.7,682.9 279.5,682.9 280.3,683.8 281.1,686.0 281.9,683.5 282.7,686.4 283.5,686.6 284.3,687.1 285.1,685.2 285.9,685.0 286.7,686.3 287.5,686.4 288.3,687.9 289.1,686.7 289.9,686.2 290.7,685.2 291.0,686.6 291.5,686.9 292.3,688.1 293.1,686.8 293.9,688.2 294.7,687.9 295.5,685.4 296.3,684.8 297.1,685.3 297.9,686.1 298.7,685.7 299.0,687.7 299.5,687.3 300.0,687.0 300.3,685.9 301.1,684.6 301.9,684.8 302.7,683.1 303.5,683.8 304.3,682.6 305.1,684.0 305.9,679.7 306.7,682.1 307.5,681.1 308.3,679.3 309.1,678.3 309.9,676.9 310.7,676.7 311.5,676.0 312.3,673.9 313.1,674.8 313.9,672.1 314.7,672.6 315.5,672.0 316.3,669.8 317.1,671.0 317.9,669.6 318.7,670.8 319.5,668.8 320.3,667.6 321.1,668.3 321.9,670.1 322.7,670.7 323.5,671.0 324.3,670.1 325.1,672.0 325.9,670.7 326.7,671.2 327.5,672.6 328.3,671.4 329.1,669.5 329.9,672.4 330.2,671.5 330.7,671.4 331.5,673.6 332.3,671.6 333.1,673.3 333.9,672.6 334.7,675.2 335.5,670.1 336.3,672.2 337.1,672.0 337.9,672.6 338.7,670.6 339.5,670.1 340.3,672.3 341.1,670.1 341.9,671.1 342.7,671.1 343.5,672.1 344.3,671.1 345.1,672.6 345.9,673.8 346.7,674.6 347.5,676.1 348.3,676.0 349.1,676.4 349.9,675.9 350.3,677.4 350.7,675.2 351.5,675.8 352.3,674.1 353.1,674.5 353.9,676.7 354.7,675.6 355.5,673.6 356.3,675.9 357.1,675.8 357.9,674.9 358.7,676.6 359.5,675.8 360.3,676.2 361.1,677.3 361.9,675.5 362.7,677.6 363.5,676.1 364.3,676.2 365.1,677.9 365.9,676.8 366.7,675.8 367.5,676.0 368.3,676.6 369.1,674.9 369.9,677.6 370.4,677.0 370.7,675.7 371.5,675.8 372.3,676.6 373.1,674.0 373.9,676.5 374.4,672.8 374.7,674.0 375.5,671.8 376.3,674.9 377.1,675.6 377.9,677.3 378.4,677.4 378.7,677.4 379.5,680.7 380.3,680.1 381.1,679.4 381.9,680.5 382.7,677.1 383.5,679.5 384.3,681.5 385.1,679.5 385.9,680.3 386.7,678.8 387.5,680.9 388.3,680.2 389.1,679.8 389.9,680.1 390.7,680.0 391.5,678.2 392.3,675.0 393.1,675.9 393.5,675.3 393.9,673.7 394.7,672.6 395.5,673.0 396.3,672.5 397.1,672.3 397.9,671.4 398.7,672.5 399.5,672.9 400.3,672.0 401.1,672.6 401.9,671.2 402.7,669.9 403.5,671.7 404.3,672.6 405.1,674.7 405.9,669.1 406.7,671.4 407.5,671.4 408.3,673.1 408.5,672.1 409.1,673.4 409.9,674.5 410.7,673.1 411.5,674.2 412.3,676.1 413.1,675.6 413.9,673.4 414.7,677.3 415.5,675.1 416.3,676.7 417.1,676.3 417.9,676.6 418.7,676.5 419.5,678.2 420.3,676.6 421.1,676.0 421.9,676.3 422.7,676.4 423.5,673.8 424.3,676.3 425.1,674.4 425.9,675.9 426.7,676.8 427.5,675.6 428.3,675.9 429.1,674.9 429.9,674.8 430.7,673.7 431.5,675.7 432.3,675.5 433.1,673.7 433.9,676.7 434.7,678.2 435.5,676.9 436.3,677.8 437.1,676.0 437.9,675.1 438.7,676.4 439.5,675.8 440.3,674.9 441.1,677.3 441.9,676.3 442.7,675.3 443.5,676.1 444.3,675.0 445.1,674.9 445.9,675.1 446.7,672.0 447.5,671.1 448.3,673.7 448.7,675.0 449.1,671.5 449.9,671.5 450.7,671.5 451.5,673.2 452.3,673.7 453.1,673.5 453.9,674.9 454.7,673.3 455.5,673.8 456.3,673.0 457.1,675.9 457.9,675.6 458.7,675.8 459.5,673.8 460.3,676.5 461.1,676.0 461.9,677.1 462.7,677.4 463.5,677.0 464.3,677.7 465.1,676.8 465.9,678.3 466.7,679.0 467.5,678.2 468.3,679.7 469.1,681.3 469.9,679.4 470.7,678.7 471.5,678.5 472.3,678.8 473.1,679.8 473.9,677.8 474.7,677.4 475.5,675.9 476.3,677.8 477.1,678.4 477.9,677.7 478.7,678.4 479.5,678.1 480.3,679.8 481.1,680.7 481.9,680.2 482.7,680.7 483.5,680.3 484.3,679.6 485.1,679.2 485.9,679.3 486.7,679.4 487.5,678.9 488.3,679.6 489.1,679.1 489.9,679.7 490.7,678.8 491.0,677.6 491.5,678.1 492.3,677.0 493.1,680.7 493.9,679.5 494.7,680.3 495.5,683.1 496.0,680.0 496.3,680.6 497.1,680.8 497.9,679.6 498.7,679.9 499.0,680.0 499.5,680.5 500.0,679.7 500.3,680.7 501.1,679.6 501.9,680.6 502.7,681.1 503.5,677.9 504.3,679.1 505.1,679.1 505.9,676.6 506.7,675.0 507.5,678.1 508.3,676.6 509.1,677.7 509.9,676.4 510.7,676.0 511.5,675.2 512.3,675.3 513.1,673.8 513.9,674.3 514.7,675.7 515.5,674.7 516.3,675.7 517.1,674.8 517.9,674.2 518.7,673.3 519.5,675.3 520.3,673.7 521.1,675.5 521.9,673.6 522.7,676.1 523.5,675.9 524.3,674.3 525.1,672.7 525.9,673.4 526.7,673.1 527.5,671.7 528.3,670.6 529.1,670.8 529.9,668.9 530.2,668.4 530.7,668.6 531.5,666.4 532.3,663.7 533.1,662.1 533.9,658.7 534.7,656.7 535.2,654.2 535.5,653.8 536.3,651.3 537.1,647.8 537.9,644.5 538.7,641.1 539.5,637.9 540.3,634.3 541.1,631.1 541.9,627.1 542.7,624.4 543.5,619.7 544.3,617.9 545.1,614.9 545.9,614.9 546.7,614.6 547.5,611.5 548.3,613.3 549.1,609.9 549.9,610.2 550.7,612.1 551.5,612.1 552.3,615.1 553.1,616.2 553.9,615.8 554.7,619.1 555.5,622.2 556.3,625.7 557.1,627.4 557.9,630.0 558.3,631.8 558.7,631.8 559.5,635.0 560.3,636.7 561.1,640.6 561.9,643.4 562.7,643.9 563.5,644.7 564.3,646.1 565.1,648.9 565.3,647.5 565.9,649.4 566.7,646.7 567.5,646.0 568.3,644.8 569.1,643.8 569.3,642.1 569.9,640.3 570.7,638.5 571.5,635.5 572.3,633.0 573.1,630.5 573.4,629.6 573.9,629.4 574.7,626.1 575.5,628.3 576.3,630.5 577.1,633.2 577.4,633.7 577.9,635.7 578.7,641.5 579.5,645.6 580.3,649.5 581.1,652.2 581.9,653.9 582.7,656.2 583.5,659.0 584.3,659.1 585.1,662.2 585.4,661.6 585.9,662.3 586.7,663.9 587.5,665.0 588.3,666.2 589.1,666.6 589.4,665.9 589.9,668.2 590.7,667.2 591.5,667.0 592.3,669.1 593.1,669.4 593.9,668.9 594.7,669.1 595.5,669.2 596.3,669.5 597.1,666.7 597.9,664.5 598.7,663.5 599.5,662.8 600.3,660.5 601.1,657.8 601.9,656.4 602.7,655.1 603.5,654.4 604.3,656.1 605.1,657.5 605.9,659.6 606.7,661.3 607.5,661.7 608.3,664.3 609.1,665.0 609.9,665.4 610.7,666.6 611.5,667.2 612.3,667.0 613.1,667.8 613.9,668.2 614.7,670.9 615.5,668.2 616.3,670.1 617.1,671.2 617.9,669.2 618.7,669.3 619.5,669.2 620.3,668.2 621.1,671.4 621.9,669.7 622.7,668.6 623.5,668.9 624.3,669.5 625.1,668.5 625.9,667.4 626.7,668.4 627.5,666.5 628.3,666.9 629.1,667.4 629.9,666.4 630.7,667.1 631.5,665.8 632.3,668.6 633.1,665.0 633.9,665.5 634.7,663.5 635.5,662.8 636.3,663.2 637.1,662.5 637.9,662.1 638.7,662.0 639.5,662.6 640.3,663.3 641.1,662.9 641.9,660.4 642.7,662.0 643.5,661.5 644.3,659.1 645.1,659.6 645.9,660.3 646.7,662.9 647.5,660.2 648.3,659.8 649.1,661.4 649.9,659.3 650.7,659.0 651.5,659.6 652.3,658.8 652.8,655.5 653.1,657.0 653.9,659.5 654.7,657.6 655.5,660.8 656.3,660.0 657.1,660.8 657.9,661.3 658.7,659.6 659.5,661.0 660.3,660.7 660.8,662.2 661.1,663.7 661.9,661.7 662.7,662.0 663.5,659.8 664.3,661.3 665.1,661.2 665.9,661.0 666.7,661.7 667.5,662.4 668.3,660.8 669.1,661.2 669.9,659.5 670.7,662.2 671.5,662.4 672.3,661.7 673.1,664.4 673.9,664.2 674.7,666.3 675.5,666.0 676.3,665.9 677.1,667.7 677.9,666.5 678.7,667.0 679.5,667.9 680.3,668.6 681.1,667.8 681.9,669.5 682.7,669.5 683.5,668.3 684.3,666.6 685.1,668.5 685.9,667.6 686.7,666.3 687.5,666.0 688.3,666.7 689.1,665.2 689.9,667.0 690.7,665.0 691.5,664.1 692.3,665.1 693.1,664.6 693.9,665.3 694.7,666.6 695.5,664.9 696.3,665.4 697.1,666.8 697.9,666.6 698.7,664.8 699.0,664.2 699.5,667.3 700.3,663.9 701.1,663.6 701.9,663.9 702.7,667.5 703.5,665.8 704.3,667.6 705.1,668.4 705.9,670.2 706.7,668.2 707.5,669.9 708.3,670.3 709.1,671.5 709.9,669.5 710.7,669.9 711.5,669.0 712.3,670.5 713.1,670.2 713.9,668.7 714.7,669.5 715.5,667.1 716.3,668.4 717.1,667.1 717.9,667.3 718.7,668.6 719.5,669.7 720.3,667.3 721.1,666.8 721.9,666.2 722.7,667.1 723.5,665.8 724.3,666.8 725.1,667.3 725.9,666.2 726.7,665.0 727.5,666.2 728.3,664.6 729.1,663.4 729.9,666.6 730.7,667.4 731.5,666.7 732.3,664.8 733.1,661.3 733.9,664.2 734.7,665.4 735.5,663.9 736.3,665.5 737.1,662.8 737.9,663.9 738.7,663.3 739.5,662.7 740.3,660.4 741.1,660.6 741.9,660.0 742.7,658.6 743.0,657.4 743.5,658.0 744.3,657.1 745.1,658.2 745.9,658.6 746.7,657.8 747.5,657.7 748.3,657.0 748.7,657.3 749.1,654.7 749.9,656.0 750.7,656.0 751.5,653.8 752.3,654.4 753.1,651.8 753.9,652.7 754.7,652.0 755.5,651.7 756.3,650.6 757.1,651.9 757.9,645.9 758.7,647.4 759.5,647.9 760.3,648.4 761.1,647.5 761.9,646.9 762.7,645.5 763.5,645.1 764.3,645.1 765.1,647.2 765.9,644.4 766.7,647.9 767.5,645.9 767.9,644.2 768.3,645.1 769.1,645.0 769.9,642.3 770.7,641.6 771.5,644.9 772.3,642.0 773.1,643.9 773.9,643.4 774.7,640.4 775.5,642.7 776.3,642.3 777.1,643.1 777.9,641.6 778.7,641.9 779.5,641.4 780.3,640.2 781.1,641.0 781.9,639.5 782.7,639.0 783.5,636.5 784.3,635.7 785.1,632.4 785.9,631.2 786.7,632.2 787.1,631.2 787.5,631.2 788.3,631.6 789.1,629.1 789.9,629.9 790.7,629.4 791.5,627.8 792.3,626.6 793.1,629.0 793.9,627.3 794.7,625.4 795.5,625.0 796.3,623.2 797.1,622.1 797.9,620.9 798.7,620.7 799.5,620.5 800.3,619.5 801.1,617.6 801.9,617.2 802.7,615.6 803.5,613.1 804.3,612.2 805.1,611.9 805.9,611.1 806.7,610.4 807.5,607.2 808.3,606.0 809.1,608.7 809.9,606.0 810.7,606.5 811.5,604.6 812.3,602.3 813.1,603.7 813.9,601.8 814.7,601.6 815.5,599.9 816.3,597.6 817.1,597.7 817.9,598.1 818.7,595.9 819.5,596.8 820.3,597.9 821.1,595.5 821.9,596.7 822.7,597.6 823.5,598.8 824.3,598.1 825.1,597.8 825.4,599.3 825.9,598.3 826.7,599.9 827.5,600.3 828.3,600.3 829.1,601.9 829.9,602.8 830.7,601.0 831.5,603.4 832.3,603.5 833.1,603.8 833.9,604.6 834.7,606.0 835.5,605.7 835.8,605.6 836.3,604.9 837.1,606.3 837.9,606.8 838.7,606.3 839.5,607.4 840.3,608.6 841.1,610.0 841.9,608.1 842.7,610.5 843.5,608.5 844.3,607.2 845.1,606.3 845.3,605.9 845.9,605.5 846.7,606.8 847.5,607.4 848.3,608.0 849.1,609.8 849.9,610.4 850.7,608.5 851.5,608.9 852.3,606.7 853.1,605.3 853.9,607.0 854.7,606.2 855.5,605.3 856.3,604.1 857.1,601.0 857.9,599.9 858.7,597.8 859.5,595.1 860.3,593.0 861.1,590.2 861.9,588.2 862.7,583.8 863.5,579.9 864.3,577.6 865.1,574.5 865.9,571.3 866.7,567.6 867.5,565.2 868.3,561.6 869.1,559.7 869.9,556.7 870.3,555.6 870.7,556.7 871.5,553.7 872.3,552.8 873.1,555.8 873.9,557.0 874.7,557.4 875.1,560.8 875.5,559.8 876.3,561.9 877.1,563.6 877.9,566.8 878.7,566.8 879.5,569.1 879.9,569.3 880.3,570.2 881.1,570.0 881.9,572.3 882.7,573.2 883.5,574.7 884.3,577.5 884.7,579.1 885.1,579.9 885.9,581.4 886.7,584.2 887.5,585.5 888.3,588.6 889.1,591.0 889.5,591.7 889.9,592.7 890.7,595.2 891.5,597.0 892.3,599.1 893.1,601.1 893.3,598.7 893.9,602.1 894.7,601.6 895.5,601.6 896.3,600.3 897.1,601.0 897.9,600.5 898.7,600.8 899.5,599.5 900.3,598.8 901.1,597.0 901.9,594.1 902.7,596.2 903.5,598.2 904.3,600.7 905.1,601.9 905.9,605.0 906.7,607.1 907.5,608.3 908.3,610.1 909.1,613.4 909.9,613.0 910.7,615.8 911.5,615.7 912.3,616.2 913.1,618.7 913.9,619.7 914.7,621.7 915.5,621.1 916.3,624.1 917.1,623.1 917.9,625.0 918.7,623.7 919.5,622.9 920.3,621.9 921.1,623.0 921.9,622.8 922.7,623.4 923.5,626.7 924.3,626.7 925.1,628.8 925.9,630.2 926.7,629.7 927.5,630.1 928.3,630.1 929.1,631.3 929.9,631.6 930.7,632.4 931.5,633.1 932.3,633.9 933.1,635.3 933.9,636.6 934.7,638.6 935.5,640.7 936.3,639.2 937.1,639.6 937.9,639.2 938.7,639.8 939.5,640.4 940.3,638.4 941.1,638.6 941.9,635.6 942.2,638.2 942.7,639.0 943.5,638.0 944.3,637.1 945.1,639.6 945.9,639.4 946.7,641.7 947.4,639.8"/>
</g>
<text class="t" transform="translate(0,61.5) scale(1,1.025)"><tspan x="385.6">HEDTA </tspan><tspan x="560" dy="-1.2">+ </tspan><tspan x="599.9" dy="1.2">MBT</tspan></text>
<text class="t" transform="translate(0,285.8) scale(1,1.025)"><tspan x="404.7">HEDTA </tspan><tspan x="578.6" dy="-1.2">+ </tspan><tspan x="619.8" dy="1.2">BP</tspan></text>
<text class="t" transform="translate(463,509.8) scale(1,1.025)">HEDTA</text>
<text class="k" x="254" y="777.3">500</text>
<text class="k" x="599" y="777.3">1000</text>
<text class="k" x="942.6" y="777.3">1500</text>
<text class="a" transform="translate(273,872.4) scale(1,1.025)">Raman Shift (cm<tspan font-size="40.5" dy="-25.6">-1</tspan><tspan dy="25.6" dx="3.5">)</tspan></text>
<text class="a" style="font-size:61px" transform="translate(45,640) rotate(-90) scale(1,1.012)">Normalized Intensity</text>
<text class="l" x="208.5" y="641">a</text>
<text class="l" x="548.2" y="591.2">b</text>
<text class="l" x="577.8" y="612.7">c</text>
<text class="l" x="602.5" y="641.4">d</text>
<text class="l" x="814.6" y="580.1">e</text>
<text class="l" x="873.2" y="535.1">f</text>
<text class="l" x="932.0" y="378">g</text>
<text class="l" x="606.3" y="154.2">h</text>
<text class="l" x="624.4" y="160.7">i</text>
<text class="l" x="853.5" y="44.5">j</text>
<text class="s" x="554.5" y="184.1">*</text>
<text class="s" x="576.4" y="192.8">*</text>
<text class="s" x="817.3" y="187.5">*</text>
<text class="s" x="546.4" y="349.3">*</text>
<text class="s" x="574.3" y="380.1">*</text>
<text class="s" x="869.2" y="410.1">*</text>
</svg>
</body></html>
